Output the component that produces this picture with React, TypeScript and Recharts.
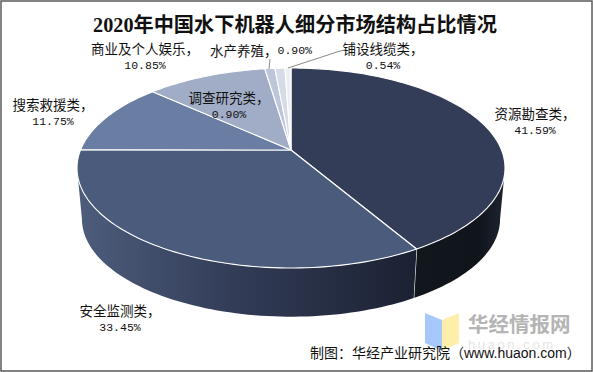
import React from "react";
import { PieChart, Pie, Cell } from "recharts";

const categories = ["资源勘查类", "安全监测类", "搜索救援类", "商业及个人娱乐", "调查研究类", "水产养殖", "铺设线缆类"];
const shares = [41.59, 33.45, 11.75, 10.85, 0.9, 0.9, 0.54];
const topColors = ["#333d58", "#4a5b7b", "#6a7da3", "#a1adc6", "#bcc6d9", "#d5dbe7", "#eceff4"];
const wallFills = ["url(#wallDark)", "url(#wallBlue)", "#333", "#333", "#333", "#333", "#333"];
// Share labels as drawn in the source: the 10.85% and 0.90% captions sit apart from their wedges.
const labelCentres = [[535, 113], [120, 310], [53, 104], [145, 48], [229, 97], [261, 50], [383, 48]];

const data = categories.map((name, i) => ({ name, value: shares[i] }));

const CJK = '"Noto Sans CJK SC", sans-serif';
const MONO = '"Liberation Mono", monospace';

// Perspective projection of the pie's circle on to the tilted disc
const KX = 2.105;
const KY = 0.9676;
const P = 0.18;
const DROP = 51.4;
const BOTTOM_SCALE = 0.977;

function project(cx: number, cy: number, r: number, theta: number, bottom = false) {
  const t = (theta * Math.PI) / 180;
  const u = Math.sin(t);
  const v = -Math.cos(t);
  const w = 1 - P * v;
  const X = (KX * r * u) / w;
  const Y = (KY * r * v) / w;
  return bottom
    ? [cx + BOTTOM_SCALE * X, cy + DROP + BOTTOM_SCALE * Y]
    : [cx + X, cy + Y];
}

function arcPoints(cx: number, cy: number, r: number, a: number, b: number, bottom = false) {
  const n = Math.max(2, Math.ceil(Math.abs(b - a) / 1.5));
  const pts: number[][] = [];
  for (let i = 0; i <= n; i++) pts.push(project(cx, cy, r, a + ((b - a) * i) / n, bottom));
  return pts;
}

const toPath = (pts: number[][]) => pts.map((p, i) => `${i ? "L" : "M"}${p[0].toFixed(2)} ${p[1].toFixed(2)}`).join("");

function TopShape(props: any) {
  const { cx, cy, outerRadius, startAngle, endAngle, fill } = props;
  const a = 90 - startAngle;
  const b = 90 - endAngle;
  const d = `M${cx} ${cy}` + toPath(arcPoints(cx, cy, outerRadius, a, b)).replace("M", "L") + "Z";
  return <path d={d} fill={fill} stroke="#ffffff" strokeWidth={1.1} strokeLinejoin="round" />;
}

const FRONT_FROM = 100.4;
const FRONT_TO = 259.6;

function WallShape(props: any) {
  const { cx, cy, outerRadius, startAngle, endAngle, fill } = props;
  const a = Math.max(90 - startAngle, FRONT_FROM);
  const b = Math.min(90 - endAngle, FRONT_TO);
  if (b <= a) return <g />;
  const top = arcPoints(cx, cy, outerRadius, a, b);
  const low = arcPoints(cx, cy, outerRadius, a, b, true).reverse();
  const seam = 90 - endAngle <= FRONT_TO;
  const end = [top[top.length - 1], low[0]];
  return (
    <g>
      <path d={toPath([...top, ...low]) + "Z"} fill={fill} />
      {seam && <path d={toPath(end)} stroke="#ffffff" strokeWidth={1.1} fill="none" />}
    </g>
  );
}

function renderLabel(props: any) {
  const { index, name, value } = props;
  const [x, y] = labelCentres[index];
  const pct = `${Number(value).toFixed(2)}%`;
  const single = name === "水产养殖";
  if (single) {
    return (
      <g>
        <text x={x} y={y} textAnchor="middle" dominantBaseline="central" fill="#111" fontSize={13.5} fontFamily={CJK}>
          {`${name}，`}
          <tspan fontFamily={MONO} fontSize={11.5}>{pct}</tspan>
        </text>
        <path d="M270 59L269 69" stroke="#8a8a8a" strokeWidth={1} fill="none" />
      </g>
    );
  }
  const isCable = name === "铺设线缆类";
  return (
    <g>
      <text x={x} y={y} textAnchor="middle" dominantBaseline="central" fill="#111" fontSize={13.5} fontFamily={CJK}>
        {`${name}，`}
      </text>
      <text x={x} y={y + 17} textAnchor="middle" dominantBaseline="central" fill="#111" fontSize={11.5} fontFamily={MONO}>
        {pct}
      </text>
      {isCable && <path d="M345 50L340 51L288 68" stroke="#8a8a8a" strokeWidth={1} fill="none" />}
    </g>
  );
}

export default function App() {
  return (
    <div style={{ position: "absolute", left: 0, top: 0, width: 593, height: 372, background: "#fff", overflow: "hidden" }}>
      <PieChart width={593} height={372} margin={{ top: 0, right: 0, bottom: 0, left: 0 }}>
        <defs>
          <linearGradient id="wallBlue" x1="0" y1="0" x2="1" y2="0">
            <stop offset="0%" stopColor="#4d5d7c" />
            <stop offset="45%" stopColor="#333d58" />
            <stop offset="100%" stopColor="#1b2132" />
          </linearGradient>
          <linearGradient id="wallDark" x1="0" y1="0" x2="1" y2="0">
            <stop offset="0%" stopColor="#12161d" />
            <stop offset="70%" stopColor="#10141b" />
            <stop offset="100%" stopColor="#1e2530" />
          </linearGradient>
        </defs>
        <Pie
          data={data}
          dataKey="value"
          nameKey="name"
          cx={291}
          cy={150}
          outerRadius={100}
          startAngle={90}
          endAngle={-270}
          paddingAngle={0}
          isAnimationActive={false}
          stroke="none"
          shape={WallShape}
          label={false}
          labelLine={false}
        >
          {data.map((d, i) => <Cell key={d.name} fill={wallFills[i]} />)}
        </Pie>
        <Pie
          data={data}
          dataKey="value"
          nameKey="name"
          cx={291}
          cy={150}
          outerRadius={100}
          startAngle={90}
          endAngle={-270}
          paddingAngle={0}
          isAnimationActive={false}
          shape={TopShape}
          label={renderLabel}
          labelLine={false}
        >
          {data.map((d, i) => <Cell key={d.name} fill={topColors[i]} />)}
        </Pie>
      </PieChart>
      <svg width={593} height={372} style={{ position: "absolute", left: 0, top: 0, pointerEvents: "none" }}>
        <polygon points="425,313 442,320 442,351 425,343" fill="#a6c8fb" />
        <polygon points="442,320 459,313 459,343 442,351" fill="#fdeeaa" />
        <text x={468} y={332} fontSize={20.5} fontWeight={700} fill="#b4b4b4" fontFamily={CJK}>华经情报网</text>
        <text x={468} y={349} fontSize={13} letterSpacing={2.6} fill="#e6e6e6" fontFamily='"Liberation Sans", sans-serif'>huaon.com</text>
        <text x={295} y={32} textAnchor="middle" fontSize={20.2} fontWeight={700} fill="#111" fontFamily={`"Liberation Serif", ${CJK}`}>
          2020年中国水下机器人细分市场结构占比情况
        </text>
        <text x={310} y={358} fontSize={14} fill="#111" fontFamily={`"Liberation Sans", ${CJK}`}>
          制图：华经产业研究院（www.huaon.com）
        </text>
        <rect x={1} y={1} width={591} height={370} fill="none" stroke="#5a5a5a" strokeWidth={1.5} />
      </svg>
    </div>
  );
}
